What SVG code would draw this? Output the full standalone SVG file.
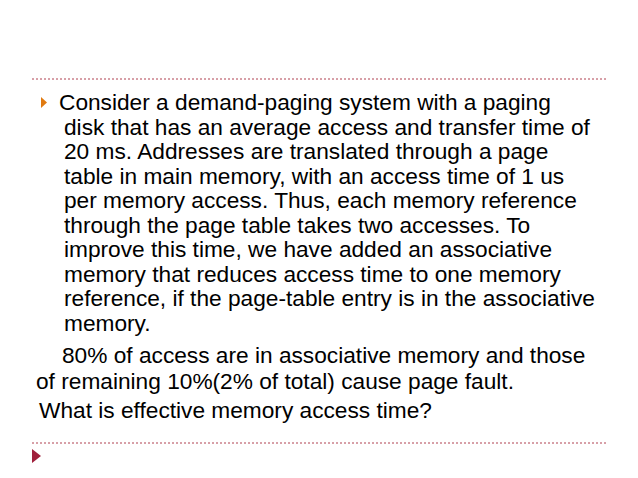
<svg xmlns="http://www.w3.org/2000/svg" width="638" height="478" viewBox="0 0 638 478">
<style>
.t{font-family:"Liberation Sans",Arial,sans-serif;font-size:22.7px;fill:#000}
.d{stroke:#b04050;stroke-width:1;stroke-dasharray:2,2;fill:none}
</style>
<rect width="638" height="478" fill="#fff"/>
<line class="d" x1="32" y1="79" x2="606" y2="79"/>
<line class="d" x1="32" y1="443" x2="606" y2="443"/>
<polygon points="41,97 47,102.5 41,108" fill="#e07a10"/>
<polygon points="32,449 41,456 32,463" fill="#a0203c"/>
<g class="t">
<text x="59" y="110">Consider a demand-paging system with a paging</text>
<text x="64" y="134.5">disk that has an average access and transfer time of</text>
<text x="64" y="159">20 ms. Addresses are translated through a page</text>
<text x="64" y="183.5">table in main memory, with an access time of 1 us</text>
<text x="64" y="208">per memory access. Thus, each memory reference</text>
<text x="64" y="232.5">through the page table takes two accesses. To</text>
<text x="64" y="257">improve this time, we have added an associative</text>
<text x="64" y="281.5">memory that reduces access time to one memory</text>
<text x="64" y="306">reference, if the page-table entry is in the associative</text>
<text x="64" y="330.5">memory.</text>
<text x="62" y="363">80% of access are in associative memory and those</text>
<text x="36" y="389">of remaining 10%(2% of total) cause page fault.</text>
<text x="39" y="418">What is effective memory access time?</text>
</g>
</svg>
